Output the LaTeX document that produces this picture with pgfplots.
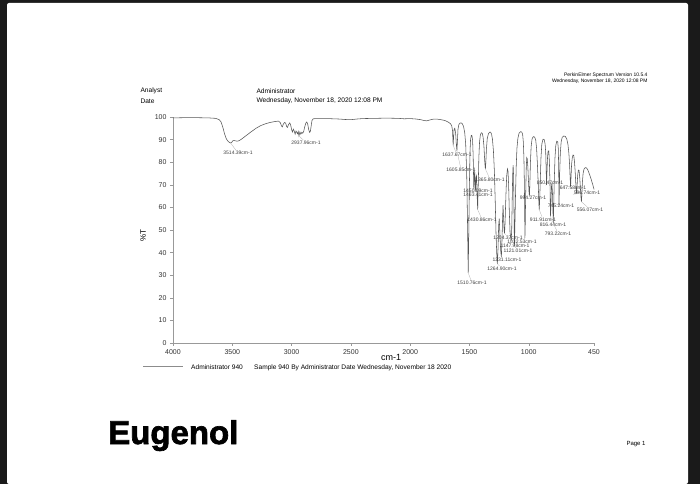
\documentclass[border=0pt]{standalone}
\usepackage{pgfplots}
\pgfplotsset{compat=1.18}
\usepackage{pgfplotstable}
\usepackage{fontspec}
\setmainfont{Liberation Sans}
\newfontfamily\heavy{Liberation Sans}[BoldFeatures={FakeBold=2}]
\definecolor{frame}{RGB}{26,26,26}
\definecolor{spec}{RGB}{85,85,85}
\pgfplotstableread{
wn T
4000 99.6
3900 99.7
3800 99.7
3700 99.6
3640 99.4
3610 98.8
3595 97.8
3580 95.5
3565 92.5
3550 90.3
3535 89.2
3520 88.6
3514 88.5
3505 88.8
3495 89.5
3485 89.6
3470 89.4
3455 89.3
3440 89.6
3420 90.3
3400 91.1
3370 92.3
3340 93.5
3300 95
3260 96.2
3220 97
3180 97.6
3140 98
3110 98.2
3095 97.5
3085 96
3078 95.6
3070 96.8
3060 97.6
3050 97.3
3042 95.8
3035 95.4
3026 96.6
3016 97.4
3008 96.5
3000 94.5
2993 93.4
2985 94.6
2978 93.8
2970 92.4
2963 93.8
2956 93.2
2950 92.6
2944 93.6
2937.96 91.6
2930 93.4
2922 92.4
2914 93.2
2906 92.8
2898 93.6
2890 95.5
2880 97.3
2872 97.8
2864 96.8
2856 94.5
2848 93.2
2842 93.6
2835 96
2828 98.4
2818 99.2
2790 99.3
2700 99.3
2600 99.1
2550 98.9
2500 98.8
2450 99.1
2400 99.3
2300 99.4
2200 99.5
2100 99.4
2050 99.2
2000 99.3
1950 99.1
1910 98.8
1880 98.4
1860 98.3
1840 98.6
1810 99.0
1780 99.1
1750 98.9
1720 98.6
1700 98.3
1685 97.9
1672 97.5
1660 97
1650 96.2
1643 94
1639 89
1637.67 87.5
1635 90
1630 94.5
1624 95
1617 93
1611 88
1605.85 85
1601 90
1597 94.5
1590 96.6
1580 97.3
1570 97.4
1560 97
1550 95.8
1540 93
1532 88
1524 76
1517 55
1510.76 31
1505 52
1500 72
1496 84
1491 90
1485 91.8
1480 91.9
1474 90
1469 83
1465 72
1463.41 68
1460 73
1456 76
1453 71
1450.09 67
1446 73
1441 74
1436 66
1430.86 59
1426 70
1421 82
1415 89
1408 92.2
1400 93
1392 92.8
1385 91
1378 87
1372 81
1368 78
1365.80 77
1362 80
1357 86
1350 90.5
1340 92.6
1330 93.3
1322 93.3
1314 92.5
1306 90
1298 85
1290 76
1283 63
1276 48
1269 38
1264.90 35
1259 42
1254 52
1249 55
1244 49
1237 41
1231.11 38
1226 45
1221 55
1217 61
1213 56
1208 50
1204.37 48.5
1200 53
1196 60
1191 68
1186 74
1180 77
1175 76
1170 70
1164 58
1158 49
1151 46
1147.98 45.5
1144 50
1140 62
1136 74
1132 78.7
1128 74
1125 60
1121.01 43
1117 52
1112 65
1106 78
1100 86
1092 90.5
1082 92.8
1070 93.5
1060 93.4
1052 92.4
1046 89
1041 82
1037 70
1034 55
1032.53 46.5
1030 52
1026 66
1021 78
1017 82
1013 81.5
1008 78
1002 71
997 66
994.27 65.4
991 70
986 80
980 87
972 90.4
962 91.3
952 91.2
942 90
934 86
927 79
920 70
915 62
911.91 59
908 63
903 72
897 82
890 88
880 90.2
870 90
862 88
857 84
853 76
850.47 70
847 75
842 82
837 85
831 85
826 80
821 70
818 60
816.44 56
813 62
809 69
805 71
800 66
796 58
793.22 53
790 60
785 72
779 82
772 87.5
764 89.3
756 89
751 86
748 78
746 68
745.24 61
743 66
739 76
734 84
727 89
718 91
705 91.6
692 91.4
680 90.3
670 88
662 84
656 79
651 73
647.58 69
644 73
639 79
633 82
627 83.2
621 83
615 80.5
609 76
603 70
599 67
596.74 66
593 69
588 74
582 76.5
576 76.4
570 73
564 68
559 64
556.07 62.5
553 65
548 71
542 75
534 77
524 77.6
514 77.5
504 76.8
494 75.5
484 74
474 72.5
466 71
460 70
455 69
450 68
}\spectrum
\begin{document}
\begin{tikzpicture}
\path[use as bounding box, fill=frame] (0,0) rectangle (700pt,484pt);
\fill[white, rounded corners=2pt] (7pt,0pt) rectangle (688pt,481pt);
\begin{axis}[
  at={(173pt,141pt)}, anchor=south west,
  scale only axis, width=421pt, height=226pt,
  xmin=450, xmax=4000, ymin=0, ymax=100, x dir=reverse,
  axis x line*=bottom, axis y line*=left,
  axis line style={-, gray!80, line width=0.5pt},
  xtick={4000,3500,3000,2500,2000,1500,1000,450},
  ytick={0,10,...,100},
  tick align=outside, major tick length=3pt,
  tick style={gray!80, line width=0.4pt},
  minor x tick num=4, minor tick length=1.5pt,
  ticklabel style={font=\fontsize{7}{8}\selectfont, text=black!80},
  /pgf/number format/1000 sep={},
  /pgf/number format/assume math mode=true,
  clip=false,
]
\addplot[color=spec, line width=0.55pt] table[x=wn, y=T] {\spectrum};
\coordinate (p1) at (axis cs:3514.39,88.5);
\coordinate (p2) at (axis cs:2937.96,91.6);
\coordinate (p3) at (axis cs:1637.67,87.5);
\coordinate (p4) at (axis cs:1605.85,85);
\coordinate (p5) at (axis cs:1365.80,77);
\coordinate (p6) at (axis cs:1450.09,67);
\coordinate (p7) at (axis cs:1463.41,68);
\coordinate (p8) at (axis cs:1430.86,59);
\coordinate (p9) at (axis cs:1204.37,48.5);
\coordinate (p10) at (axis cs:1032.53,46.5);
\coordinate (p11) at (axis cs:1147.98,45.5);
\coordinate (p12) at (axis cs:1121.01,43);
\coordinate (p13) at (axis cs:1231.11,38);
\coordinate (p14) at (axis cs:1264.90,35);
\coordinate (p15) at (axis cs:1510.76,31);
\coordinate (p16) at (axis cs:994.27,65.4);
\coordinate (p17) at (axis cs:850.47,70);
\coordinate (p18) at (axis cs:647.58,69);
\coordinate (p19) at (axis cs:596.74,66);
\coordinate (p20) at (axis cs:745.24,61);
\coordinate (p21) at (axis cs:556.07,62.5);
\coordinate (p22) at (axis cs:911.91,59);
\coordinate (p23) at (axis cs:816.44,56);
\coordinate (p24) at (axis cs:793.22,53);
\end{axis}
\begin{scope}[x=1pt, y=-1pt, yshift=484pt,
  pl/.style={font=\fontsize{5}{5}\selectfont, text=black!75, inner sep=0.6pt},
  ld/.style={gray!60, line width=0.3pt}]
% peak labels
\foreach \i/\x/\y/\t in {
 1/238/153/3514.39, 2/306/142.5/2937.96, 3/457/155/1637.67, 4/461/169.3/1605.85,
 5/490/179.3/1365.80, 6/478/190.7/1450.09, 7/478/194.3/1463.41, 8/482/219.3/1430.86,
 9/508/237.3/1204.37, 10/522/241.7/1032.53, 11/515/245.7/1147.98, 12/518/250.7/1121.01,
 13/507/260/1231.11, 14/502/268.3/1264.90, 15/472/282.7/1510.76, 16/533/197.3/994.27,
 17/550/182.7/850.47, 18/573/187.7/647.58, 19/587/192.7/596.74, 20/561/206/745.24,
 21/590/209.3/556.07, 22/543/219.3/911.91, 23/553/224.3/816.44, 24/558/233.3/793.22}{
  \node[pl] (n\i) at (\x,\y) {\t cm-1};
  \draw[ld] (p\i) -- (n\i);
}
% axis labels
\node[rotate=90, font=\fontsize{8}{9}\selectfont] at (143,236) {\%T};
\node[font=\fontsize{9}{9}\selectfont, inner sep=0pt] at (391,357) {cm-1};
% header
\node[anchor=west, font=\fontsize{6.6}{7}\selectfont] at (137,91) {Analyst};
\node[anchor=west, font=\fontsize{6.6}{7}\selectfont] at (137,101) {Date};
\node[anchor=west, font=\fontsize{6.6}{7}\selectfont] at (253,91) {Administrator};
\node[anchor=west, font=\fontsize{6.6}{7}\selectfont] at (253,101) {Wednesday, November 18, 2020 12:08 PM};
\node[anchor=east, font=\fontsize{5}{5}\selectfont] at (651,75) {PerkinElmer Spectrum Version 10.5.4};
\node[anchor=east, font=\fontsize{5}{5}\selectfont] at (651,81) {Wednesday, November 18, 2020 12:08 PM};
% legend
\draw[gray!90, line width=1pt] (143,367) -- (183,367);
\node[anchor=west, font=\fontsize{6.6}{7}\selectfont, inner sep=1pt] at (190,367.5) {Administrator 940};
\node[anchor=west, font=\fontsize{6.6}{7}\selectfont, inner sep=1pt] at (253,367.5) {Sample 940 By Administrator Date Wednesday, November 18 2020};
% title and page
\node[anchor=base west, inner sep=0pt, font=\fontsize{33}{33}\heavy\bfseries] at (108,444) {Eugenol};
\node[anchor=west, font=\fontsize{6}{6}\selectfont] at (623,444) {Page 1};
\end{scope}
\end{tikzpicture}
\end{document}
